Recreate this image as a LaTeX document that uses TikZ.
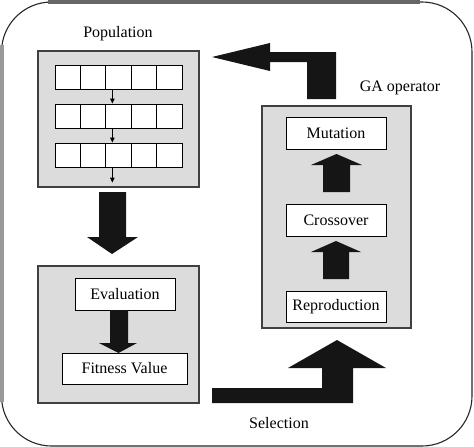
\documentclass[tikz,border=0pt]{standalone}
\usepackage{fontspec}
\setmainfont{Liberation Serif}
\usetikzlibrary{arrows.meta,calc}
\definecolor{boxgrey}{HTML}{DCDCDC}
\definecolor{edgegrey}{HTML}{404040}
\definecolor{arrowblack}{HTML}{151515}
\tikzset{
  panel/.style={draw=edgegrey,fill=boxgrey,line width=1.2pt,inner sep=0pt},
  wbox/.style={draw=black,fill=white,line width=1pt,inner sep=0pt,font=\fontsize{16}{18}\selectfont},
  cell/.style={draw=black,fill=white,line width=0.9pt,inner sep=0pt,minimum width=25.4pt,minimum height=24pt},
  sarrow/.style={draw=black,line width=0.8pt,-{Triangle[length=5pt,width=4.5pt]}},
  blockarrow/.style={fill=arrowblack,draw=none},
  lbl/.style={inner sep=0pt,font=\fontsize{16}{18}\selectfont}
}
\begin{document}
\begin{tikzpicture}[x=1pt,y=-1pt]
\useasboundingbox (0,0) rectangle (474,447);
% outer frame
\draw[line width=1.1pt,rounded corners=50pt,draw=black!85] (1.5,2) rectangle (472,446);
\fill[black!60] (48,0) rectangle (420,4);
\fill[black!40] (0,45) rectangle (4,402);
% labels
\node[lbl] (poplbl) at (118,34) {Population};
\node[lbl] (galbl) at (400,88) {GA operator};
\node[lbl] (sellbl) at (279,423) {Selection};
% population panel
\node[panel,minimum width=161pt,minimum height=136pt] (pop) at (118.5,119) {};
\foreach \r/\y in {1/77,2/116,3/155}{
  \foreach \c in {1,...,5}{
    \node[cell] (r\r c\c) at ({55+12.7+25.4*(\c-1)},\y) {};
  }
}
\draw[sarrow] ([xshift=7pt]r1c3.south west) -- ([xshift=7pt]r2c3.north west);
\draw[sarrow] ([xshift=7pt]r2c3.south west) -- ([xshift=7pt]r3c3.north west);
\draw[sarrow,shorten >=5pt] ([xshift=7pt]r3c3.south west) -- ([xshift=7pt]r3c3.south west |- pop.south);
% evaluation panel
\node[panel,minimum width=161pt,minimum height=137pt] (evp) at (118.5,334.5) {};
\node[wbox,minimum width=100pt,minimum height=32pt] (eval) at (125,294) {Evaluation};
\node[wbox,minimum width=125pt,minimum height=31pt] (fit) at (124.5,368.5) {Fitness Value};
% GA panel
\node[panel,minimum width=149pt,minimum height=222pt] (ga) at (336.5,217) {};
\node[wbox,minimum width=100pt,minimum height=32pt] (mut) at (336,133) {Mutation};
\node[wbox,minimum width=100pt,minimum height=32pt] (cross) at (336,220) {Crossover};
\node[wbox,minimum width=100pt,minimum height=31pt] (repro) at (336,306.5) {Reproduction};
% block arrows
% population -> evaluation
\fill[blockarrow] (99,192) -- (126,192) -- (126,237) -- (138,237) -- (112,254) -- (87,237) -- (99,237) -- cycle;
% evaluation -> fitness
\fill[blockarrow] (110,310) -- (128,310) -- (128,343) -- (137,343) -- (118.5,353) -- (99,343) -- (110,343) -- cycle;
% crossover -> mutation
\fill[blockarrow] (323,192) -- (350,192) -- (350,165) -- (362,165) -- (336.5,154) -- (311,165) -- (323,165) -- cycle;
% reproduction -> crossover
\fill[blockarrow] (323,279) -- (349,279) -- (349,252) -- (361,252) -- (336,241) -- (311,252) -- (323,252) -- cycle;
% GA -> population
\fill[blockarrow] (307,99) -- (336,99) -- (336,52) -- (270,52) -- (270,43) -- (212,57) -- (270,71) -- (270,62) -- (307,62) -- cycle;
% selection
\fill[blockarrow] (212,388) -- (322,388) -- (322,368) -- (288,368) -- (337,340) -- (386,368) -- (353,368) -- (353,403) -- (212,403) -- cycle;
\end{tikzpicture}
\end{document}
